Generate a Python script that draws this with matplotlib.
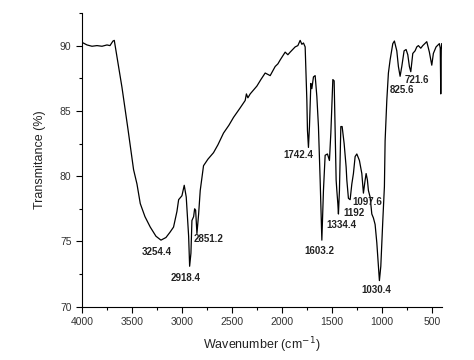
import matplotlib.pyplot as plt
from matplotlib.ticker import MultipleLocator

plt.rcParams.update(
    {
        "font.family": "Liberation Sans",
        "font.size": 8,
        "xtick.direction": "out",
        "ytick.direction": "out",
    }
)

# FTIR spectrum
wavenumber = [
    4000, 3950, 3900, 3850, 3800, 3750, 3720, 3690, 3677, 3660, 3600, 3540, 3484,
    3450, 3417, 3370, 3317, 3260, 3210, 3160, 3120, 3084, 3050, 3033, 3000, 2977,
    2957, 2933, 2923, 2910, 2900, 2883, 2873, 2863, 2850, 2833, 2817, 2800, 2784,
    2740, 2684, 2640, 2584, 2530, 2484, 2420, 2367, 2355, 2340, 2317, 2250, 2210,
    2167, 2117, 2067, 2040, 2017, 1967, 1940, 1917, 1867, 1840, 1817, 1800, 1784,
    1767, 1750, 1744, 1734, 1724, 1710, 1700, 1684, 1667, 1650, 1634, 1617, 1600,
    1584, 1567, 1544, 1524, 1510, 1490, 1477, 1467, 1457, 1450, 1440, 1434, 1424,
    1410, 1397, 1377, 1357, 1350, 1334, 1317, 1300, 1284, 1267, 1250, 1224, 1200,
    1184, 1167, 1157, 1144, 1134, 1117, 1100, 1084, 1067, 1050, 1034, 1024, 1010,
    990, 974, 967, 950, 934, 917, 890, 874, 850, 834, 817, 800, 777, 757, 740, 724,
    710, 690, 667, 650, 634, 610, 590, 550, 524, 500, 484, 457, 424, 415, 410, 405,
    400,
]
transmittance = [
    90.25, 90.05, 89.95, 90.0, 89.95, 90.05, 90.0, 90.35, 90.4, 89.6, 86.8, 83.6, 80.5,
    79.4, 77.9, 76.9, 76.1, 75.4, 75.1, 75.3, 75.7, 76.1, 77.3, 78.2, 78.5, 79.3,
    78.4, 75.4, 73.1, 74.1, 76.6, 76.9, 77.5, 77.4, 75.6, 77.1, 78.9, 79.9, 80.8,
    81.3, 81.8, 82.4, 83.3, 83.9, 84.5, 85.2, 85.8, 86.3, 86.0, 86.3, 86.9, 87.4,
    87.9, 87.7, 88.4, 88.6, 88.9, 89.5, 89.3, 89.5, 89.9, 90.0, 90.4, 90.1, 90.2,
    89.9, 85.8, 83.5, 82.2, 83.8, 87.1, 86.7, 87.6, 87.7, 86.1, 83.8, 79.7, 75.1,
    78.9, 81.6, 81.7, 81.2, 83.3, 87.4, 87.3, 83.3, 79.7, 78.9, 77.9, 77.1, 78.9,
    83.8, 83.8, 82.5, 80.7, 79.7, 78.3, 78.2, 79.4, 80.2, 81.5, 81.7, 81.2, 80.2,
    78.7, 79.7, 80.2, 79.7, 78.9, 78.4, 77.1, 76.8, 76.3, 74.9, 73.1, 72.0, 73.1,
    76.6, 79.2, 82.7, 85.8, 87.9, 88.9, 90.15, 90.35, 89.6, 88.4, 87.65, 88.4, 89.6,
    89.7, 89.3, 88.4, 88.0, 89.4, 89.6, 89.9, 90.0, 89.8, 90.0, 90.3, 89.5, 88.5, 89.4,
    89.9, 90.15, 89.8, 86.3, 89.7, 90.15,
]

peak_labels = ["3254.4", "2918.4", "2851.2", "1742.4", "1603.2", "1334.4",
               "1192", "1097.6", "1030.4", "825.6", "721.6"]
label_x = [3250, 2967, 2733, 1833, 1623, 1400, 1283, 1150, 1050, 800, 650]
label_y = [74.2, 72.2, 75.15, 81.6, 74.26, 76.25, 77.15, 78.0, 71.3, 86.6, 87.4]

fig = plt.figure(figsize=(4.74, 3.6), dpi=100)
ax = fig.add_axes([0.173, 0.148, 0.759, 0.816])
ax.plot(wavenumber, transmittance, color="black", linewidth=0.9)

for text, x, y in zip(peak_labels, label_x, label_y):
    ax.text(x, y, text, ha="center", va="center", fontsize=7, fontweight="bold",
            color="#222222")

ax.set_xlim(4000, 400)
ax.set_ylim(70, 92.5)
ax.xaxis.set_major_locator(MultipleLocator(500))
ax.xaxis.set_minor_locator(MultipleLocator(250))
ax.yaxis.set_major_locator(MultipleLocator(5))
ax.yaxis.set_minor_locator(MultipleLocator(2.5))
ax.tick_params(which="major", length=4, width=0.8, labelsize=7.5, labelcolor="#333333")
ax.tick_params(which="minor", length=2.5, width=0.8)
ax.spines["top"].set_visible(False)
ax.spines["right"].set_visible(False)

ax.set_xlabel("Wavenumber (cm$^{-1}$)", fontsize=9, color="#222222", labelpad=6)
ax.set_ylabel("Transmitance (%)", fontsize=9, color="#222222", labelpad=10)

fig.savefig("out.png", dpi=100)
